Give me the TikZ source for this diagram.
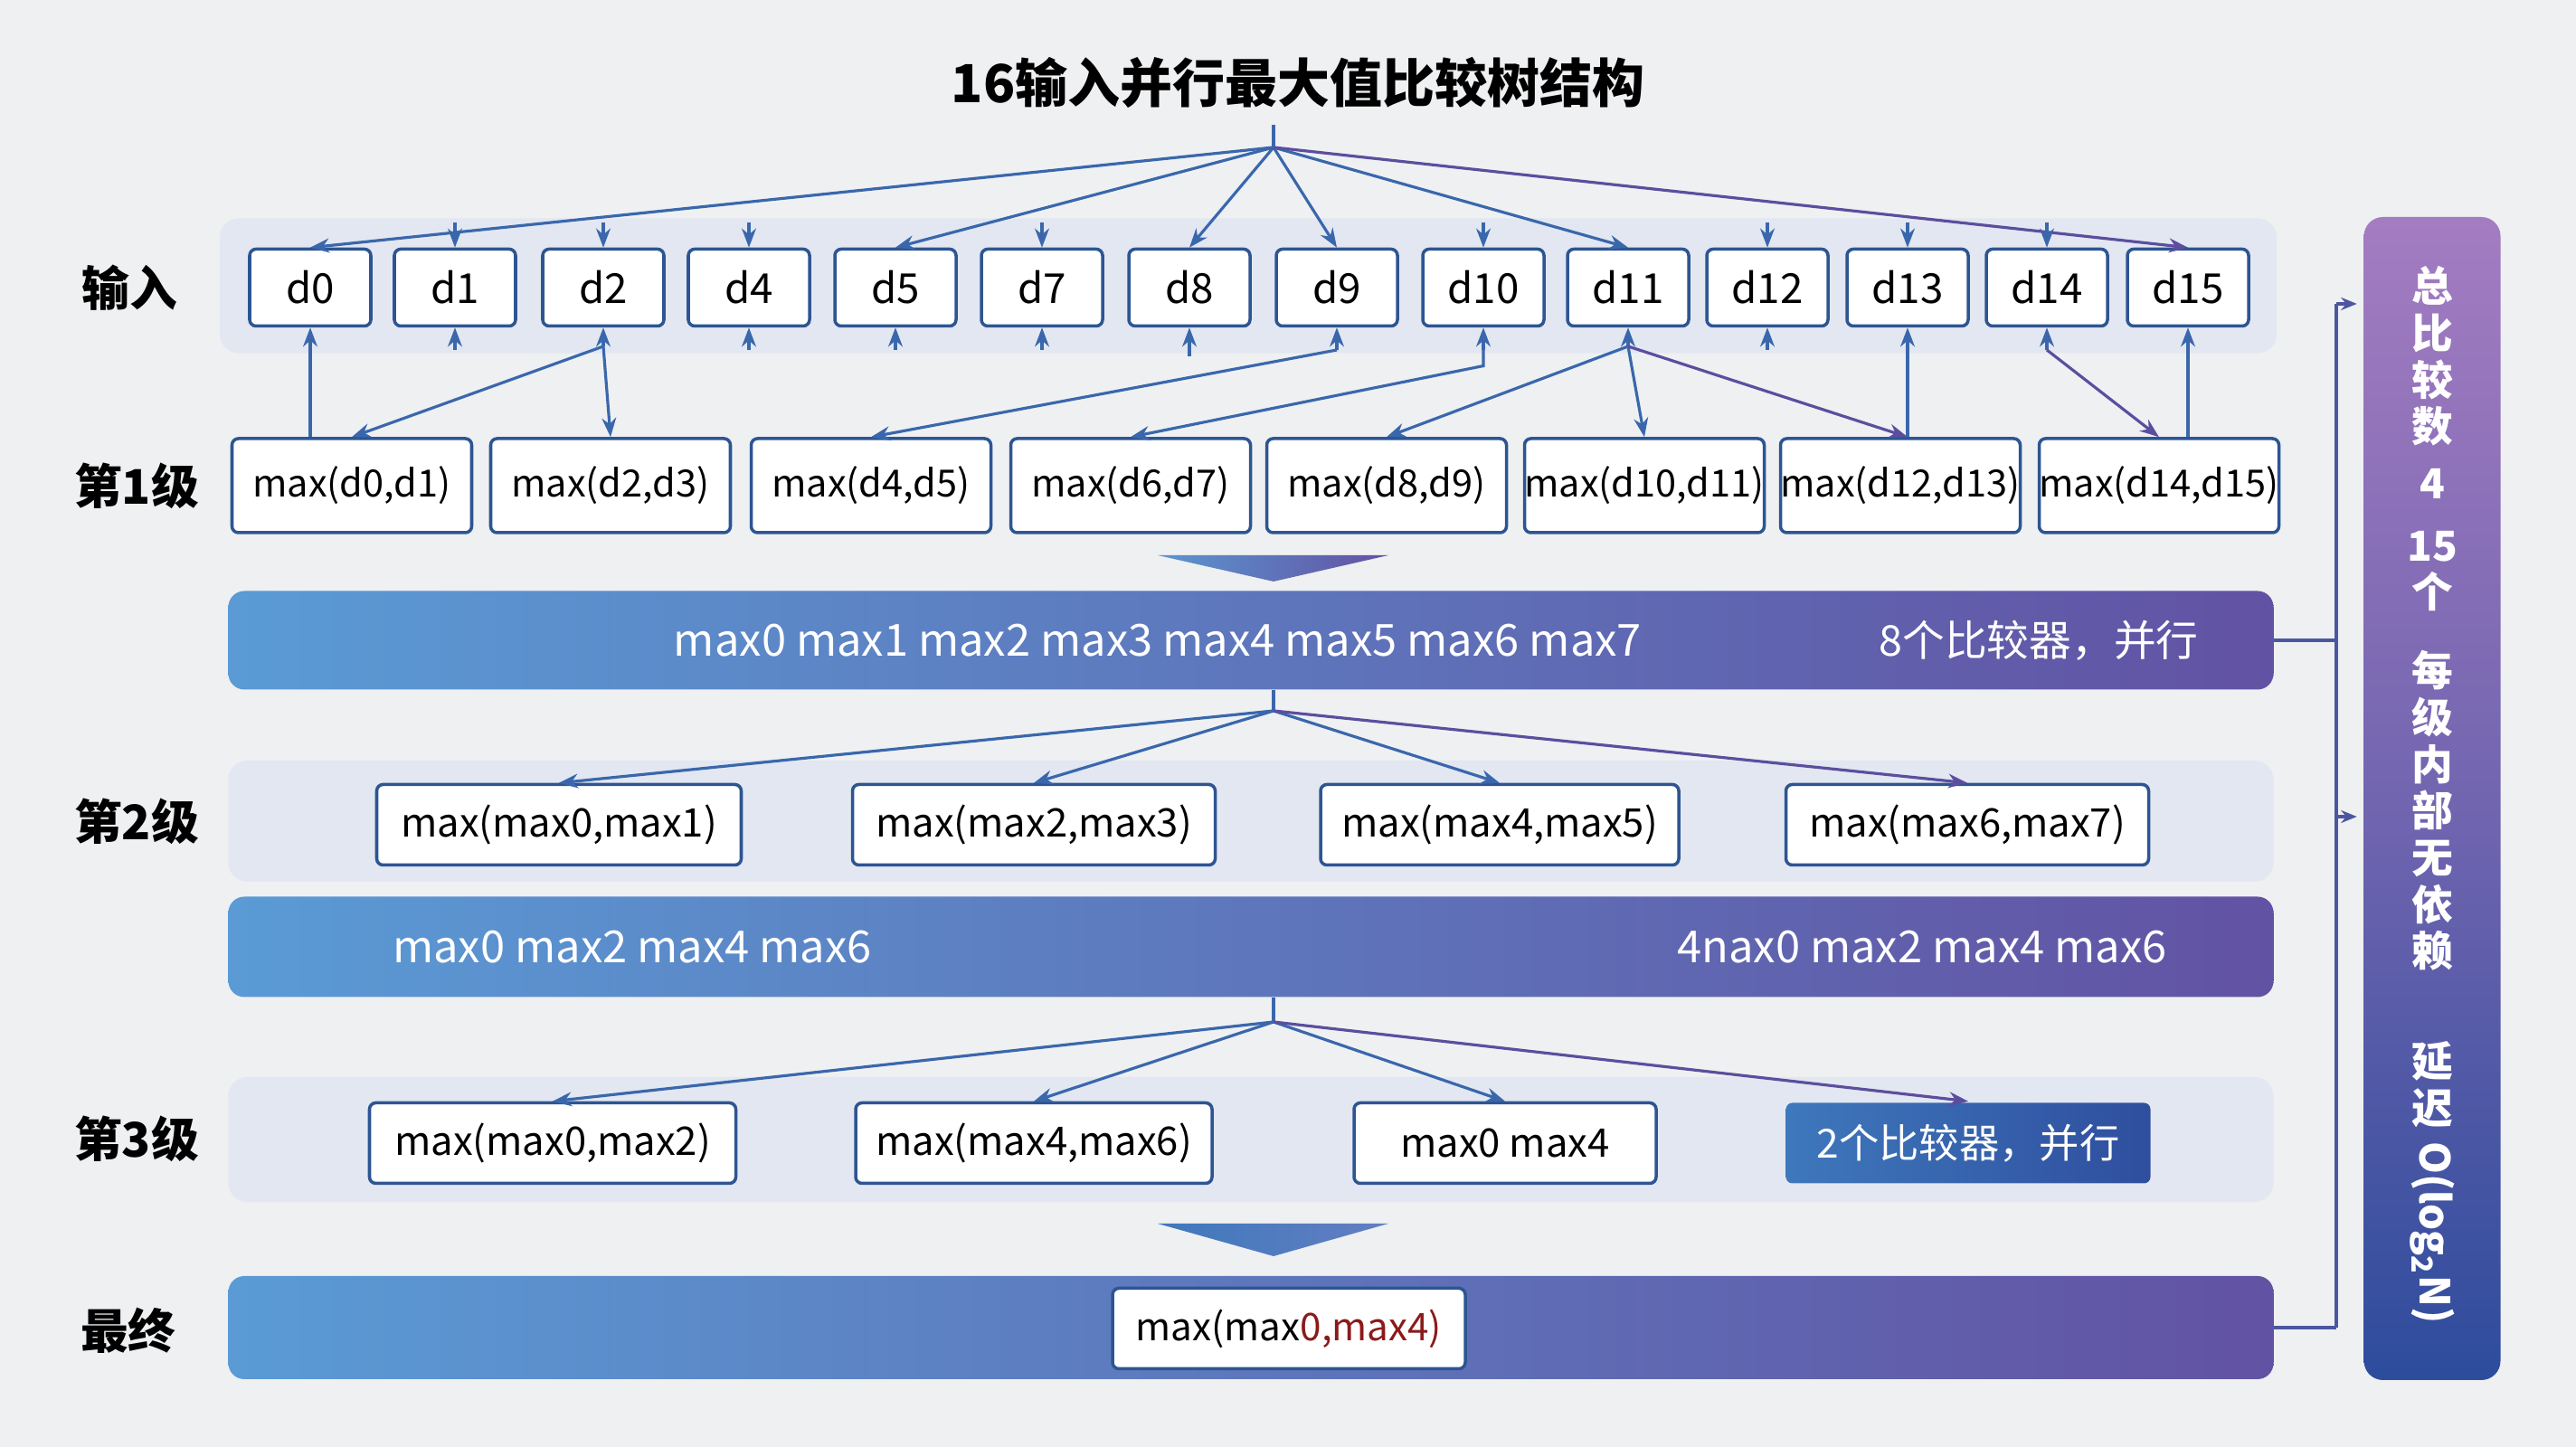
\documentclass[tikz,border=0pt]{standalone}
\usepackage{fontspec}
\setmainfont{Noto Sans CJK SC}
\usetikzlibrary{arrows.meta}

\definecolor{bgcol}{HTML}{EEF0F2}
\definecolor{lightband}{HTML}{E2E7F1}
\definecolor{boxblue}{HTML}{2D5592}
\definecolor{arrblue}{HTML}{3A67AC}
\definecolor{arrpurple}{HTML}{5B4E9E}
\definecolor{bandl}{HTML}{5A9BD5}
\definecolor{bandm}{HTML}{637FC2}
\definecolor{bandr}{HTML}{6252A3}
\definecolor{panelt}{HTML}{A47CC1}
\definecolor{panelm}{HTML}{7265B0}
\definecolor{panelb}{HTML}{2D4C9C}
\definecolor{cmpl}{HTML}{3E78BC}
\definecolor{cmpr}{HTML}{2F4E9E}
\definecolor{brcol}{HTML}{4C56A0}
\definecolor{darkred}{HTML}{8B1A1A}

\tikzset{
  dbox/.style={shape=rectangle, draw=boxblue, fill=white, line width=1pt, rounded corners=2pt, inner sep=0pt, minimum width=1.34cm, minimum height=0.85cm, font=\fontsize{13}{15}\selectfont},
  cbox/.style={dbox, minimum width=2.65cm, minimum height=1.04cm, font=\fontsize{11.8}{14}\selectfont},
  wbox/.style={dbox, minimum height=0.89cm, font=\fontsize{12.4}{14}\selectfont},
  lvl/.style={font=\bfseries\fontsize{15}{17}\selectfont},
  band/.style={shape=rectangle, rounded corners=5pt, minimum width=22.61cm, left color=bandl, middle color=bandm, right color=bandr},
  lband/.style={shape=rectangle, rounded corners=6pt, fill=lightband, minimum width=22.61cm},
  btext/.style={text=white, font=\fontsize{13.9}{16}\selectfont},
  wire/.style={draw=arrblue, line width=0.9pt, -{Stealth[length=6pt,width=4.5pt]}},
  pwire/.style={wire, draw=arrpurple},
  brk/.style={draw=brcol, line width=0.9pt},
}

\begin{document}
\begin{tikzpicture}
	\useasboundingbox (0,0) rectangle (28.48,16);
	\fill[bgcol] (0,0) rectangle (28.48,16);
	% Bands and labels:
	\node[font=\bfseries\fontsize{16.5}{18}\selectfont] (title) at (14.35,15.09) {16输入并行最大值比较树结构};
	\node[lband, minimum width=22.74cm, minimum height=1.49cm] (inband) at (13.80,12.84) {};
	\node[lband, minimum height=1.34cm] (band2) at (13.83,6.92) {};
	\node[lband, minimum height=1.38cm] (band3) at (13.83,3.40) {};
	\node[band, minimum height=1.09cm] (res1) at (13.83,8.92) {};
	\node[band, minimum height=1.11cm] (res2) at (13.83,5.53) {};
	\node[band, minimum height=1.14cm] (res3) at (13.83,1.32) {};
	\node[btext] (t1a) at (12.80,8.92) {max0 max1 max2 max3 max4 max5 max6 max7};
	\node[btext, font=\fontsize{13.3}{16}\selectfont] (t1b) at (22.54,8.92) {8个比较器，并行};
	\node[btext] (t2a) at (6.99,5.53) {max0 max2 max4 max6};
	\node[btext] (t2b) at (21.25,5.53) {4nax0 max2 max4 max6};
	\node[lvl] (lin) at (1.43,12.82) {输入};
	\node[lvl] (lv1) at (1.51,10.63) {第1级};
	\node[lvl] (lv2) at (1.51,6.92) {第2级};
	\node[lvl] (lv3) at (1.51,3.41) {第3级};
	\node[lvl] (lvf) at (1.42,1.29) {最终};
	\shade[left color=bandl!80!bandm, right color=bandr] (12.80,9.86) -- (15.35,9.86) -- (14.08,9.57) -- cycle;
	\shade[left color=cmpl, right color=bandm] (12.80,2.47) -- (15.35,2.47) -- (14.08,2.11) -- cycle;
	% Inputs:
	\node[dbox] (d0) at (3.43,12.82) {d0};
	\node[dbox] (d1) at (5.03,12.82) {d1};
	\node[dbox] (d2) at (6.67,12.82) {d2};
	\node[dbox] (d4) at (8.28,12.82) {d4};
	\node[dbox] (d5) at (9.90,12.82) {d5};
	\node[dbox] (d7) at (11.52,12.82) {d7};
	\node[dbox] (d8) at (13.15,12.82) {d8};
	\node[dbox] (d9) at (14.78,12.82) {d9};
	\node[dbox] (d10) at (16.40,12.82) {d10};
	\node[dbox] (d11) at (18.00,12.82) {d11};
	\node[dbox] (d12) at (19.54,12.82) {d12};
	\node[dbox] (d13) at (21.09,12.82) {d13};
	\node[dbox] (d14) at (22.63,12.82) {d14};
	\node[dbox] (d15) at (24.19,12.82) {d15};
	% Level 1:
	\node[cbox] (l1a) at (3.89,10.63) {max(d0,d1)};
	\node[cbox] (l1b) at (6.75,10.63) {max(d2,d3)};
	\node[cbox] (l1c) at (9.63,10.63) {max(d4,d5)};
	\node[cbox] (l1d) at (12.50,10.63) {max(d6,d7)};
	\node[cbox] (l1e) at (15.33,10.63) {max(d8,d9)};
	\node[cbox] (l1f) at (18.18,10.63) {max(d10,d11)};
	\node[cbox] (l1g) at (21.01,10.63) {max(d12,d13)};
	\node[cbox] (l1h) at (23.87,10.63) {max(d14,d15)};
	% Level 2 and 3:
	\node[wbox, minimum width=4.03cm] (l2a) at (6.18,6.88) {max(max0,max1)};
	\node[wbox, minimum width=4.01cm] (l2b) at (11.43,6.88) {max(max2,max3)};
	\node[wbox, minimum width=3.96cm] (l2c) at (16.58,6.88) {max(max4,max5)};
	\node[wbox, minimum width=4.01cm] (l2d) at (21.75,6.88) {max(max6,max7)};
	\node[wbox, minimum width=4.05cm] (l3a) at (6.11,3.36) {max(max0,max2)};
	\node[wbox, minimum width=3.94cm] (l3b) at (11.43,3.36) {max(max4,max6)};
	\node[wbox, minimum width=3.34cm] (l3c) at (16.64,3.36) {max0 max4};
	\node[wbox, draw=none, left color=cmpl, right color=cmpr, text=white, minimum width=4.03cm, font=\fontsize{12.6}{15}\selectfont] (l3d) at (21.76,3.36) {2个比较器，并行};
	\node[wbox, minimum width=3.90cm, font=\fontsize{12}{14}\selectfont] (fin) at (14.25,1.31) {max(max\textcolor{darkred}{0,max4)}};
	% Side panel:
	\node[shape=rectangle, rounded corners=6pt, top color=panelt, bottom color=panelb, middle color=panelm, minimum width=1.51cm, minimum height=12.86cm] (panel) at (26.89,7.17) {};
	\node[text=white, align=center, font=\bfseries\fontsize{13}{14.7}\selectfont] (ptxt) at (26.89,7.21) {总\\比\\较\\数\\[3pt]4\\[5pt]15\\个\\[10pt]每\\级\\内\\部\\无\\依\\赖\\[20pt]延\\迟\\[-9pt]\rotatebox{-90}{O(log\textsubscript{2}N)}};
	% Wires:
	\coordinate (tb) at (14.08,14.62);
	\coordinate (hub) at (14.08,14.37);
	\draw[draw=arrblue, line width=0.9pt] (tb) -- (hub);
	\draw[wire] (hub) -- (d0.north);
	\draw[wire] (hub) -- (d5.north);
	\draw[wire] (hub) -- (d8.north);
	\draw[wire] (hub) -- (d9.north);
	\draw[wire] (hub) -- (d11.north);
	\draw[pwire] (hub) -- (d15.north);
	\draw[wire] ([yshift=8pt]d1.north) -- (d1.north);
	\draw[wire] ([yshift=8pt]d2.north) -- (d2.north);
	\draw[wire] ([yshift=8pt]d4.north) -- (d4.north);
	\draw[wire] ([yshift=8pt]d7.north) -- (d7.north);
	\draw[wire] ([yshift=8pt]d10.north) -- (d10.north);
	\draw[wire] ([yshift=8pt]d12.north) -- (d12.north);
	\draw[wire] ([yshift=8pt]d13.north) -- (d13.north);
	\draw[wire] ([yshift=8pt]d14.north) -- (d14.north);
	\draw[wire] (d0.south |- l1a.north) -- (d0.south);
	\draw[wire] ([yshift=-7pt]d1.south) -- (d1.south);
	\draw[wire] ([yshift=-7pt]d4.south) -- (d4.south);
	\draw[wire] ([yshift=-7pt]d5.south) -- (d5.south);
	\draw[wire] ([yshift=-7pt]d7.south) -- (d7.south);
	\draw[wire] ([yshift=-9pt]d8.south) -- (d8.south);
	\draw[wire] ([yshift=-7pt]d12.south) -- (d12.south);
	\coordinate (j2) at (6.67,12.17);
	\draw[wire] (j2) -- (d2.south);
	\draw[wire] (j2) -- (l1a.north);
	\draw[wire] (j2) -- (l1b.north);
	\coordinate (j9) at (14.78,12.13);
	\draw[wire] (j9) -- (d9.south);
	\draw[wire] (j9) -- (l1c.north);
	\coordinate (j10) at (16.40,12.13);
	\draw[wire] (j10) -- (d10.south);
	\draw[wire] (j10) -- ([yshift=-5pt]j10) -- (l1d.north);
	\coordinate (j11) at (18.00,12.17);
	\draw[wire] (j11) -- (d11.south);
	\draw[wire] (j11) -- (l1e.north);
	\draw[wire] (j11) -- (l1f.north);
	\draw[pwire] (j11) -- (l1g.north -| d13.south);
	\draw[wire] (d13.south |- l1g.north) -- (d13.south);
	\coordinate (j14) at (22.63,12.13);
	\draw[wire] (j14) -- (d14.south);
	\draw[pwire] (j14) -- (l1h.north);
	\draw[wire] (d15.south |- l1h.north) -- (d15.south);
	\coordinate (h2) at (14.08,8.14);
	\draw[draw=arrblue, line width=0.9pt] (h2 |- res1.south) -- (h2);
	\draw[wire] (h2) -- (l2a.north);
	\draw[wire] (h2) -- (l2b.north);
	\draw[wire] (h2) -- (l2c.north);
	\draw[pwire] (h2) -- (l2d.north);
	\coordinate (h3) at (14.08,4.70);
	\draw[draw=arrblue, line width=0.9pt] (h3 |- res2.south) -- (h3);
	\draw[wire] (h3) -- (l3a.north);
	\draw[wire] (h3) -- (l3b.north);
	\draw[wire] (h3) -- (l3c.north);
	\draw[pwire] (h3) -- (l3d.north);
	% Bracket:
	\coordinate (bt) at (25.83,12.64);
	\coordinate (bm) at (25.83,6.97);
	\coordinate (bb) at (25.83,1.32);
	\draw[brk] (bt) -- (bb);
	\draw[brk] (res1.east) -- (res1.east -| bt);
	\draw[brk] (res3.east) -- (bb);
	\draw[brk, -{Stealth[length=5pt,width=4pt]}, shorten >=2pt] (bt) -- (bt -| panel.west);
	\draw[brk, -{Stealth[length=5pt,width=4pt]}, shorten >=2pt] (bm) -- (bm -| panel.west);
\end{tikzpicture}
\end{document}
